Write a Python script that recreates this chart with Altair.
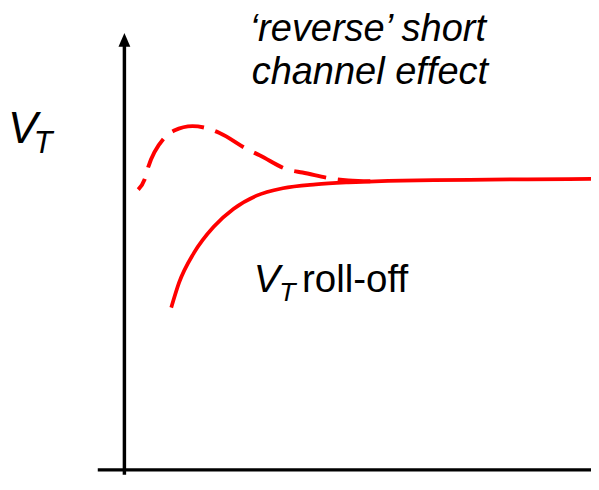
import altair as alt
import pandas as pd

# Schematic units (1 unit = 5 px); origin at the axes crossing
rsce_x = [2.8, 4.1, 4.8, 8.1, 10.1, 13.8, 16.6, 19.3, 25.1, 27.4, 33.4, 36.1, 42.4, 45.4, 50.8]
rsce_y = [56.8, 58.9, 61.3, 67.3, 68.8, 69.7, 69.3, 68.3, 64.9, 63.8, 60.8, 60.3, 59.0, 58.7, 58.5]

rolloff_x = [9.5, 11.1, 14.1, 18.1, 22.1, 26.8, 32.1, 38.8, 45.4, 50.8, 94.6]
rolloff_y = [32.9, 38.0, 44.0, 49.3, 52.9, 55.6, 57.1, 57.9, 58.3, 58.5, 59.0]

x_domain = [-23.6, 94.6]
y_domain = [-1.0, 93.0]

# axis lines
yaxis_x = [0.0]
yaxis_y = [-1.0]
yaxis_y2 = [86.0]
arrow_x = [0.0]
arrow_y = [87.2]
xaxis_y = [0.0]
xaxis_x = [-5.4]
xaxis_x2 = [94.6]

# text annotations
ylabel_main = ["V"]
ylabel_main_x = [-23.6]
ylabel_main_y = [66.2]
ylabel_sub = ["T"]
ylabel_sub_x = [-18.4]
ylabel_sub_y = [64.2]

rsce_label = ["\u2018reverse\u2019 short", "channel effect"]
rsce_label_x = [25.4, 25.8]
rsce_label_y = [87.0, 78.2]

roll_v = ["V"]
roll_v_x = [26.2]
roll_v_y = [36.0]
roll_t = ["T"]
roll_t_x = [31.4]
roll_t_y = [34.3]
roll_text = ["roll-off"]
roll_text_x = [36.0]
roll_text_y = [36.0]

FONT = "Liberation Sans"
RED = "#ff0000"

xs = alt.Scale(domain=x_domain, nice=False, zero=False)
ys = alt.Scale(domain=y_domain, nice=False, zero=False)


def X(f="x"):
    return alt.X(f"{f}:Q", scale=xs, axis=None)


def Y(f="y"):
    return alt.Y(f"{f}:Q", scale=ys, axis=None)


rsce_df = pd.DataFrame({"x": rsce_x, "y": rsce_y})
roll_df = pd.DataFrame({"x": rolloff_x, "y": rolloff_y})

solid = alt.Chart(roll_df).mark_line(
    color=RED, strokeWidth=3.8, interpolate="monotone", clip=False
).encode(x=X(), y=Y())

dashed = alt.Chart(rsce_df).mark_line(
    color=RED, strokeWidth=4, interpolate="monotone", strokeDash=[33, 12],
    strokeDashOffset=20, strokeCap="butt", clip=False
).encode(x=X(), y=Y())

yaxis = alt.Chart(pd.DataFrame({"x": yaxis_x, "y": yaxis_y, "y2": yaxis_y2})).mark_rule(
    color="black", strokeWidth=3.5, clip=False
).encode(x=X(), y=Y(), y2="y2:Q")

arrow = alt.Chart(pd.DataFrame({"x": arrow_x, "y": arrow_y})).mark_point(
    shape="M0,-1L-0.857,1L0.857,1Z", size=196, filled=True, color="black",
    opacity=1, strokeWidth=0, clip=False
).encode(x=X(), y=Y())

xaxis = alt.Chart(pd.DataFrame({"x": xaxis_x, "x2": xaxis_x2, "y": xaxis_y})).mark_rule(
    color="black", strokeWidth=3.5, clip=False
).encode(x=X(), x2="x2:Q", y=Y())


def text_layer(texts, xv, yv, size, style):
    df = pd.DataFrame({"t": texts, "x": xv, "y": yv})
    return alt.Chart(df).mark_text(
        align="left", baseline="alphabetic", font=FONT, fontSize=size,
        fontStyle=style, color="black", clip=False
    ).encode(x=X(), y=Y(), text="t:N")


t1 = text_layer(ylabel_main, ylabel_main_x, ylabel_main_y, 45, "italic")
t2 = text_layer(ylabel_sub, ylabel_sub_x, ylabel_sub_y, 31, "italic")
t3 = text_layer(rsce_label, rsce_label_x, rsce_label_y, 38.5, "italic")
t4 = text_layer(roll_v, roll_v_x, roll_v_y, 40, "italic")
t5 = text_layer(roll_t, roll_t_x, roll_t_y, 27, "italic")
t6 = text_layer(roll_text, roll_text_x, roll_text_y, 39, "normal")

chart = alt.layer(
    yaxis, arrow, xaxis, dashed, solid, t1, t2, t3, t4, t5, t6
).properties(
    width=591, height=470, padding=0,
    autosize=alt.AutoSizeParams(type="none")
).configure_view(stroke=None)

chart.save("out.html", embed_options={"renderer": "svg", "actions": False})
